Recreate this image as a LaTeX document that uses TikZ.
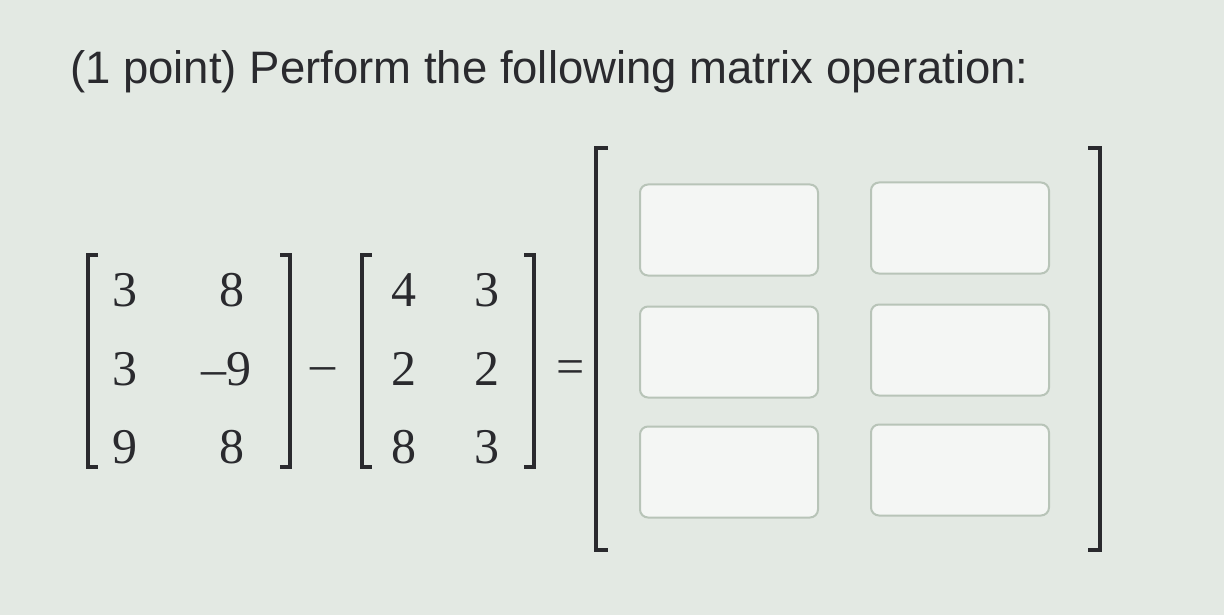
\documentclass[tikz,border=0pt]{standalone}
\usepackage{fontspec}
\setmainfont{Liberation Serif}
\newfontfamily\titlefont{Liberation Sans}
\begin{document}
\begin{tikzpicture}[x=1pt,y=-1pt]
\definecolor{bg}{HTML}{E3E9E3}
\definecolor{boxc}{HTML}{B8C4B8}
\definecolor{ink}{HTML}{2A2A2E}
\tikzset{
 brk/.style={draw=ink,line width=3.2pt},
 num/.style={font=\fontsize{50}{50}\selectfont,text=ink,inner sep=0pt},
 ansbox/.style={draw=boxc,line width=2pt,rounded corners=8pt,fill=white!60!bg,minimum width=178pt,minimum height=91pt,inner sep=0pt}
}
\fill[bg] (0,0) rectangle (1224,615);
\useasboundingbox (0,0) rectangle (1224,615);
\node[anchor=base west,text=ink,font=\titlefont\fontsize{45.5}{45.5}\selectfont,inner sep=0pt] (title) at (70,84) {(1 point) Perform the following matrix operation:};
% matrix 1
\draw[brk] (98,255) -- (88,255) -- (88,467) -- (98,467);
\draw[brk] (280,255) -- (290,255) -- (290,467) -- (280,467);
\node[num] (a11) at (125,290) {3}; \node[num] (a12) at (232,290) {8};
\node[num] (a21) at (125,369) {3}; \node[num] (a22) at (226,369) {\textendash9};
\node[num] (a31) at (125,447) {9}; \node[num] (a32) at (232,447) {8};
\node[num] (minus) at (323,374) {\textendash};
% matrix 2
\draw[brk] (372,255) -- (362,255) -- (362,467) -- (372,467);
\draw[brk] (524,255) -- (534,255) -- (534,467) -- (524,467);
\node[num] (b11) at (404,290) {4}; \node[num] (b12) at (487,290) {3};
\node[num] (b21) at (404,369) {2}; \node[num] (b22) at (487,369) {2};
\node[num] (b31) at (404,447) {8}; \node[num] (b32) at (487,447) {3};
\node[num] (eq) at (571,372) {=};
% result
\draw[brk] (608,148) -- (596,148) -- (596,550) -- (608,550);
\draw[brk] (1088,148) -- (1100,148) -- (1100,550) -- (1088,550);
\node[ansbox] (c11) at (729,230) {}; \node[ansbox] (c12) at (960,228) {};
\node[ansbox] (c21) at (729,352) {}; \node[ansbox] (c22) at (960,350) {};
\node[ansbox] (c31) at (729,472) {}; \node[ansbox] (c32) at (960,470) {};
\end{tikzpicture}
\end{document}
